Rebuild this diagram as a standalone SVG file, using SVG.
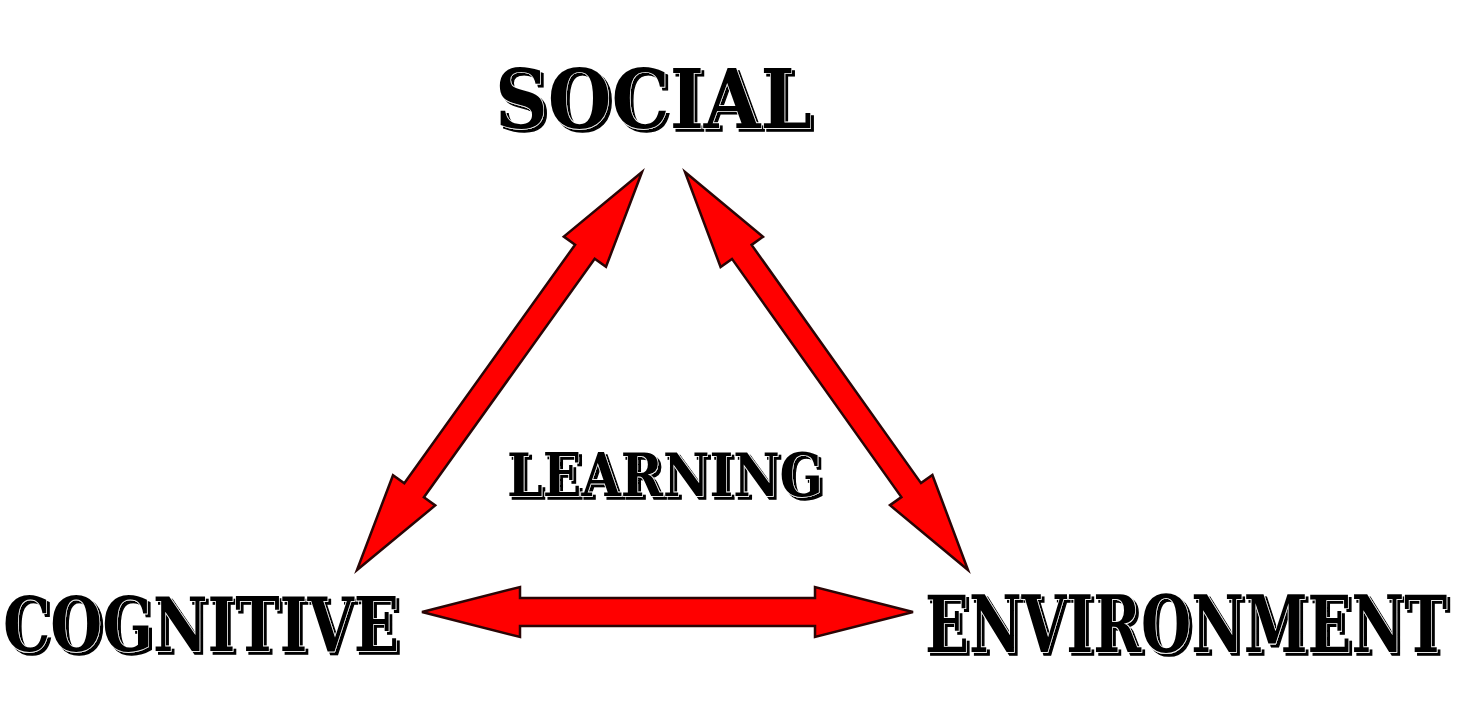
<svg xmlns="http://www.w3.org/2000/svg" width="1476" height="726" viewBox="0 0 1476 726">
<defs>
<filter id="shadow" x="-5%" y="-20%" width="110%" height="140%">
<feOffset in="SourceAlpha" dx="3" dy="2.5" result="off"/>
<feMerge><feMergeNode in="off"/><feMergeNode in="SourceGraphic"/></feMerge>
</filter>
</defs>
<style>
.lbl{font-family:"DejaVu Serif","Liberation Serif",serif;font-weight:bold;fill:#000;stroke:#fff;stroke-width:1.2;paint-order:stroke;filter:url(#shadow);}
.arr{fill:#ff0000;stroke:#2a0505;stroke-width:2.5;stroke-linejoin:miter;}
</style>
<rect width="1476" height="726" fill="#fff"/>
<g id="connectors">
<polygon class="arr" points="642,172 606.0,266.8 594.7,258.7 423.9,497.3 435.2,505.4 357,570 393.0,475.2 404.3,483.3 575.1,244.7 563.8,236.6"/>
<polygon class="arr" points="685,172 763.0,236.8 751.6,244.9 921.0,483.1 932.4,475.0 968,570 890.0,505.2 901.4,497.1 732.0,258.9 720.6,267.0"/>
<polygon class="arr" points="422,612 520,587 520,598 815,598 815,587 913,612 815,637 815,626 520,626 520,637"/>
</g>
<g id="social" transform="translate(495,128) scale(1,1.13)">
<text class="lbl" x="0" y="0" font-size="73" textLength="317" lengthAdjust="spacingAndGlyphs">SOCIAL</text>
</g>
<g id="learning" transform="translate(507,496) scale(1,1.2)">
<text class="lbl" x="0" y="0" font-size="50" textLength="316" lengthAdjust="spacingAndGlyphs">LEARNING</text>
</g>
<g id="cognitive" transform="translate(3,651) scale(1,1.28)">
<text class="lbl" x="0" y="0" font-size="59" textLength="396" lengthAdjust="spacingAndGlyphs">COGNITIVE</text>
</g>
<g id="environment" transform="translate(925,652) scale(1,1.37)">
<text class="lbl" x="0" y="0" font-size="57" textLength="522" lengthAdjust="spacingAndGlyphs">ENVIRONMENT</text>
</g>
</svg>
